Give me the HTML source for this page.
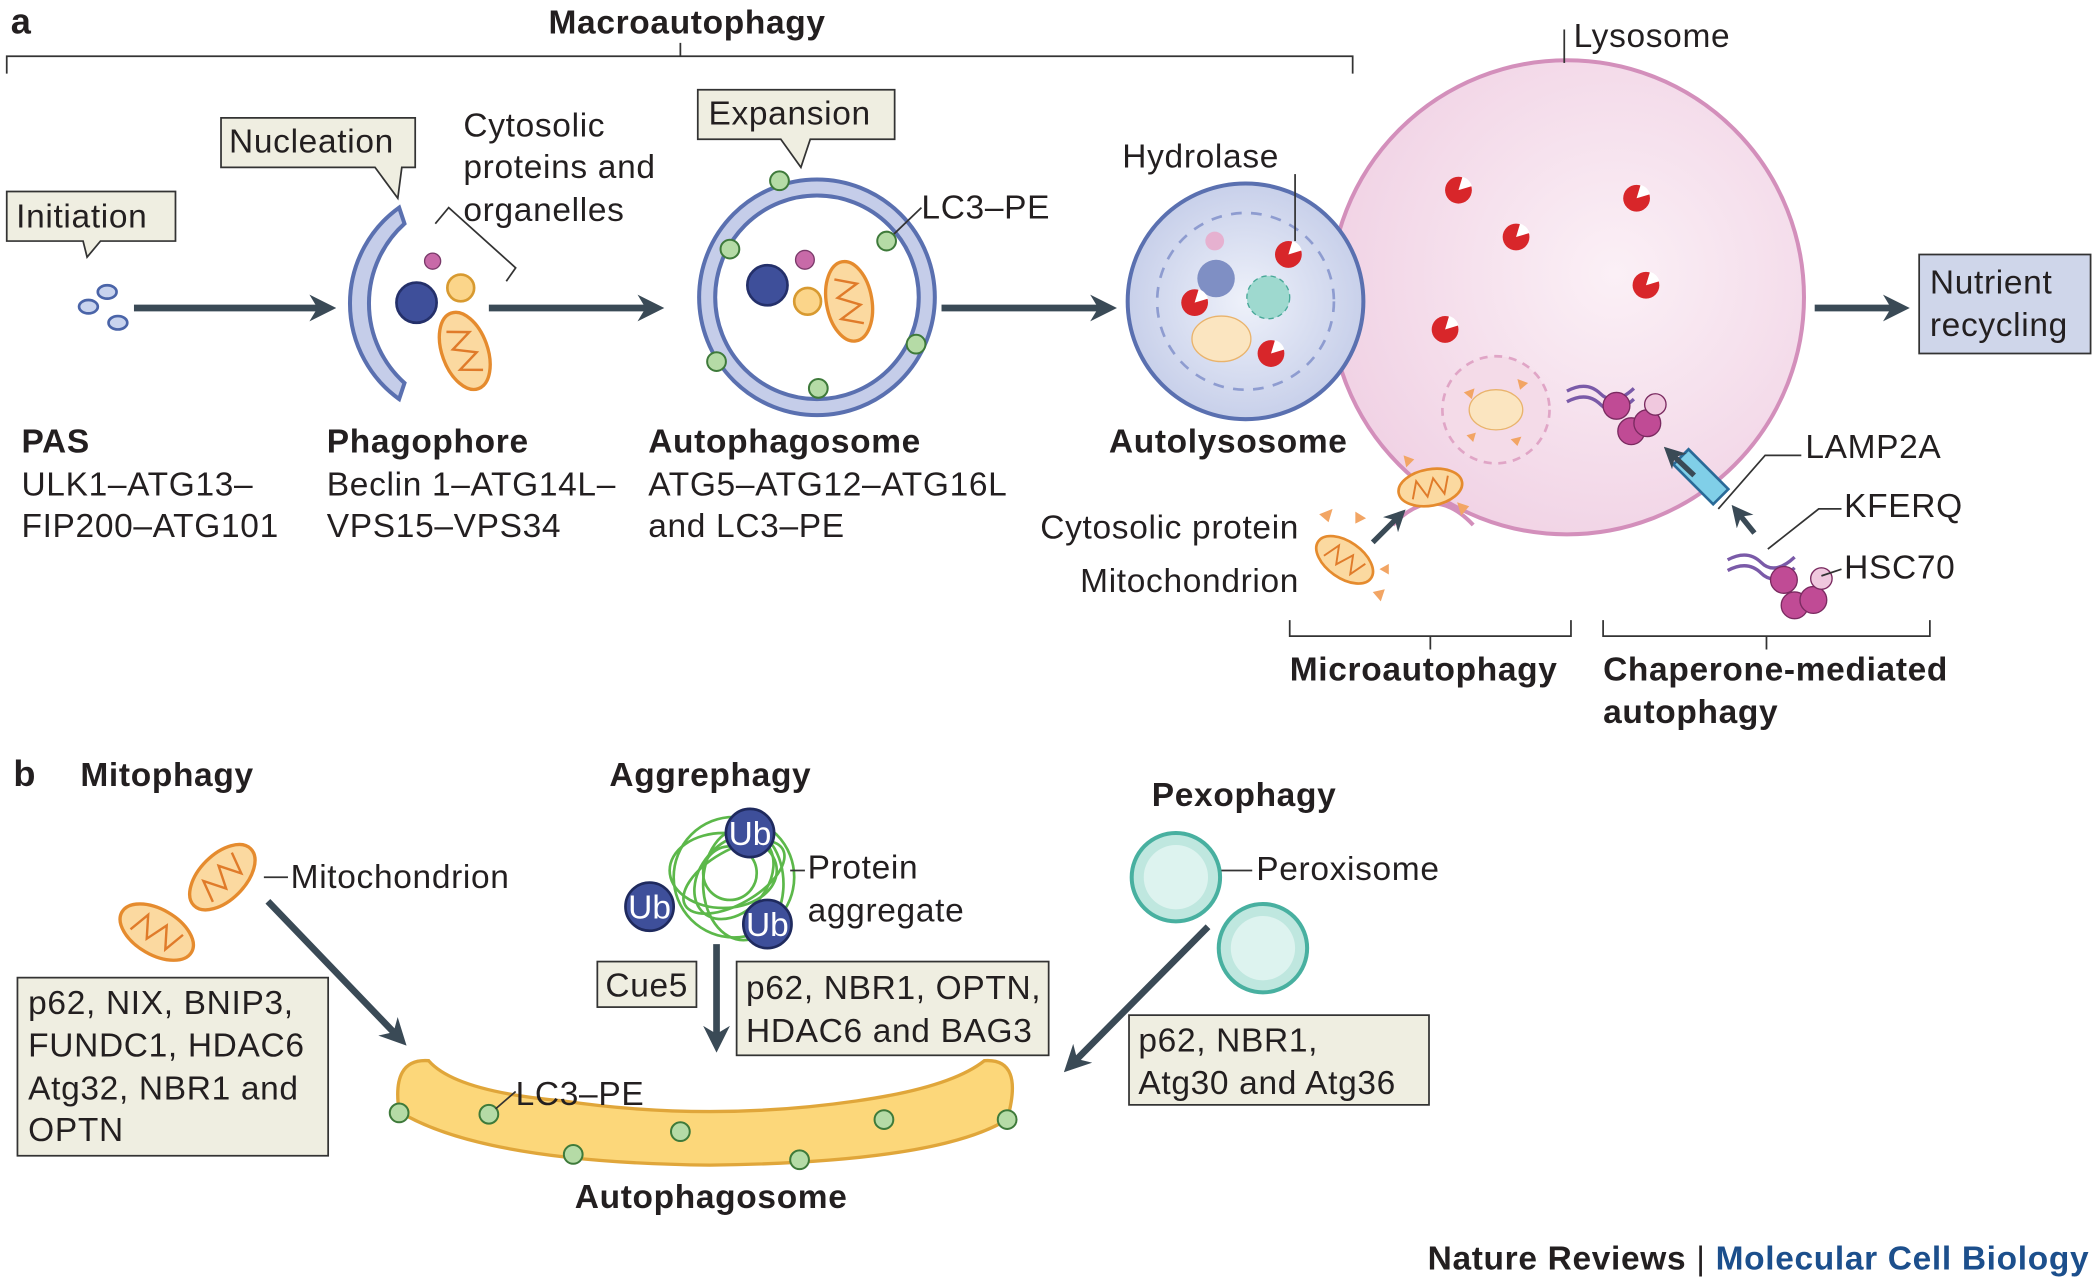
<!DOCTYPE html>
<html><head><meta charset="utf-8"><style>
html,body{margin:0;padding:0;background:#fff;}
svg{display:block;}
text{font-family:"Liberation Sans",sans-serif;fill:#231f20;letter-spacing:0.5px;}
.t{font-size:25px;}
.b{font-size:25px;font-weight:bold;}
</style></head><body>
<svg width="2100" height="1287" viewBox="0 0 1568 961" xmlns="http://www.w3.org/2000/svg">
<defs>
<marker id="ah" viewBox="0 0 10 10" refX="6" refY="5" markerWidth="4" markerHeight="4" orient="auto"><path d="M0,0 L10,5 L0,10 L3,5 z" fill="#3a4a56"/></marker>
<radialGradient id="lg" cx="0.6" cy="0.45" r="0.6"><stop offset="0" stop-color="#fbf0f6"/><stop offset="1" stop-color="#f1d3e5"/></radialGradient>
<radialGradient id="al" cx="0.5" cy="0.5" r="0.5"><stop offset="0" stop-color="#eef1fa"/><stop offset="1" stop-color="#c8d0ea"/></radialGradient>
<g id="mito"><ellipse cx="0" cy="0" rx="17" ry="30" fill="#fbd9a0" stroke="#e58b2e" stroke-width="2.5"/><path d="M-8,-18 L8,-12 L-8,-4 L8,4 L-8,12 L8,18" fill="none" stroke="#e07b2a" stroke-width="1.8"/></g>
<g id="pac"><circle r="10" fill="#d8262a"/><path d="M0,0 L10,-3 A10,10 0 0 0 3,-10 z" fill="#fff"/></g>
<g id="gd"><circle r="7" fill="#b5dba6" stroke="#3e7a3a" stroke-width="1.5"/></g>
</defs>
<text x="8" y="25" class="b" style="font-size:27px">a</text>
<text x="513" y="25" class="b" text-anchor="middle">Macroautophagy</text>
<path d="M5,55 V42 H1010 V55 M508,42 V32" fill="none" stroke="#333" stroke-width="1.3"/>
<path d="M5,143 H131 V180 H75 L65,192 L62,180 H5 Z" fill="#efeee1" stroke="#333" stroke-width="1.3"/>
<text x="12" y="170" class="t">Initiation</text>
<g fill="#c8d3ee" stroke="#4a64a8" stroke-width="2"><ellipse cx="66" cy="229" rx="7" ry="5"/><ellipse cx="80" cy="218" rx="7" ry="5"/><ellipse cx="88" cy="241" rx="7" ry="5"/></g>
<g stroke="#3a4a56" stroke-width="5" marker-end="url(#ah)"><line x1="100" y1="230" x2="243" y2="230"/><line x1="365" y1="230" x2="488" y2="230"/><line x1="703" y1="230" x2="826" y2="230"/><line x1="1355" y1="230" x2="1418" y2="230"/></g>
<path d="M298,155 A88,88 0 0 0 298,298 L302,286 A80,80 0 0 1 302,167 Z" fill="#c5cde9" stroke="#5a70b0" stroke-width="3"/>
<path d="M165,88 H310 V125 H300 L297,148 L280,125 H165 Z" fill="#efeee1" stroke="#333" stroke-width="1.3"/>
<text x="171" y="114" class="t">Nucleation</text>
<text x="346" y="102" class="t">Cytosolic</text><text x="346" y="133" class="t">proteins and</text><text x="346" y="165" class="t">organelles</text>
<path d="M325,167 L335,155 L385,200 L378,210" fill="none" stroke="#333" stroke-width="1.3"/>
<circle cx="323" cy="195" r="6" fill="#c86aa8" stroke="#7a3a6a"/>
<circle cx="311" cy="226" r="15" fill="#3e4f9a" stroke="#24306a" stroke-width="2"/>
<circle cx="344" cy="215" r="10" fill="#fbd58a" stroke="#d89a30" stroke-width="2"/>
<use href="#mito" transform="translate(347,262) rotate(-20)"/>
<circle cx="610" cy="222" r="88" fill="#c5cde9" stroke="#5a70b0" stroke-width="3"/>
<circle cx="610" cy="222" r="76" fill="#fff" stroke="#5a70b0" stroke-width="3"/>
<path d="M521,67 H668 V104 H605 L598,125 L583,104 H521 Z" fill="#efeee1" stroke="#333" stroke-width="1.3"/>
<text x="529" y="93" class="t">Expansion</text>
<text x="688" y="163" class="t">LC3–PE</text>
<line x1="662" y1="180" x2="688" y2="155" stroke="#333" stroke-width="1.3"/>
<use href="#gd" x="582" y="135"/><use href="#gd" x="545" y="186"/><use href="#gd" x="662" y="180"/><use href="#gd" x="535" y="270"/><use href="#gd" x="684" y="257"/><use href="#gd" x="611" y="290"/>
<circle cx="601" cy="194" r="7" fill="#c86aa8" stroke="#7a3a6a"/>
<circle cx="573" cy="213" r="15" fill="#3e4f9a" stroke="#24306a" stroke-width="2"/>
<circle cx="603" cy="225" r="10" fill="#fbd58a" stroke="#d89a30" stroke-width="2"/>
<use href="#mito" transform="translate(634,225) rotate(-10)"/>
<circle cx="1170" cy="222" r="177" fill="url(#lg)" stroke="#d38fbb" stroke-width="3"/>
<path d="M1040,392 Q1070,360 1100,392" fill="#fff" stroke="#d38fbb" stroke-width="3"/>
<line x1="1168" y1="47" x2="1168" y2="22" stroke="#333" stroke-width="1.3"/>
<text x="1175" y="35" class="t">Lysosome</text>
<circle cx="930" cy="225" r="88" fill="url(#al)" stroke="#5a70b0" stroke-width="3"/>
<circle cx="930" cy="225" r="66" fill="none" stroke="#8e9cd0" stroke-width="2" stroke-dasharray="8,7"/>
<circle cx="908" cy="208" r="14" fill="#7f8fc4"/><circle cx="947" cy="222" r="16" fill="#9ed9cf" stroke="#48a898" stroke-dasharray="4,3"/>
<circle cx="907" cy="180" r="7" fill="#e6b1d0"/>
<ellipse cx="912" cy="253" rx="22" ry="17" fill="#fbe5c0" stroke="#e9b36c"/>
<use href="#pac" x="962" y="190"/><use href="#pac" x="892" y="226"/><use href="#pac" x="949" y="264"/>
<text x="838" y="125" class="t">Hydrolase</text>
<line x1="967" y1="130" x2="967" y2="180" stroke="#333" stroke-width="1.3"/>
<use href="#pac" x="1089" y="142"/><use href="#pac" x="1222" y="148"/><use href="#pac" x="1132" y="177"/><use href="#pac" x="1229" y="213"/><use href="#pac" x="1079" y="246"/>
<circle cx="1117" cy="306" r="40" fill="#f4dbe8" stroke="#e0a5c6" stroke-width="2" stroke-dasharray="6,5"/>
<ellipse cx="1117" cy="306" rx="20" ry="15" fill="#fbe5c0" stroke="#e9b36c"/>
<g fill="#f2a564"><path d="M1093,293 l8,-3 l-2,8z"/><path d="M1133,283 l8,3 l-6,5z"/><path d="M1095,325 l7,-2 l-2,7z"/><path d="M1128,328 l8,-2 l-3,7z"/></g>
<g stroke="#7a5aa8" stroke-width="2.5" fill="none"><path d="M1170,292 q15,-8 25,2 t25,-4"/><path d="M1170,300 q15,-8 25,2 t25,-4"/></g>
<g fill="#c04b95" stroke="#7a2a60"><circle cx="1207" cy="303" r="10"/><circle cx="1218" cy="322" r="10"/><circle cx="1230" cy="316" r="10"/><circle cx="1236" cy="302" r="8" fill="#f0c8de"/></g>
<rect x="1262" y="335" width="16" height="42" fill="#80cfe8" stroke="#2a6a98" stroke-width="2" transform="rotate(-45 1270 356)"/>
<g stroke="#3a4a56" stroke-width="4" marker-end="url(#ah)"><line x1="1265" y1="355" x2="1247" y2="338"/><line x1="1310" y1="398" x2="1297" y2="382"/></g>
<g stroke="#7a5aa8" stroke-width="2.5" fill="none"><path d="M1290,418 q15,-8 25,2 t25,-4"/><path d="M1290,426 q15,-8 25,2 t25,-4"/></g>
<g fill="#c04b95" stroke="#7a2a60"><circle cx="1332" cy="433" r="10"/><circle cx="1340" cy="452" r="10"/><circle cx="1354" cy="448" r="10"/><circle cx="1360" cy="432" r="8" fill="#f0c8de"/></g>
<path d="M1283,380 L1318,340 H1345" fill="none" stroke="#333" stroke-width="1.3"/>
<path d="M1320,410 L1358,380 H1375" fill="none" stroke="#333" stroke-width="1.3"/>
<path d="M1360,430 L1375,425" fill="none" stroke="#333" stroke-width="1.3"/>
<text x="1348" y="342" class="t">LAMP2A</text><text x="1377" y="386" class="t">KFERQ</text><text x="1377" y="432" class="t">HSC70</text>
<use href="#mito" transform="translate(1068,364) rotate(80) scale(0.8)"/>
<use href="#mito" transform="translate(1004,418) rotate(-55) scale(0.8)"/>
<g fill="#f2a564"><path d="M985,384 l10,-4 l-3,10z"/><path d="M1012,382 l8,5 l-8,4z"/><path d="M1048,340 l8,3 l-6,6z"/><path d="M1088,375 l9,3 l-6,7z"/><path d="M1025,442 l9,-2 l-3,9z"/><path d="M1030,425 l7,-4 l0,8z"/></g>
<line x1="1025" y1="405" x2="1045" y2="385" stroke="#3a4a56" stroke-width="4" marker-end="url(#ah)"/>
<text x="970" y="402" class="t" text-anchor="end">Cytosolic protein</text>
<text x="970" y="442" class="t" text-anchor="end">Mitochondrion</text>
<path d="M963,463 V475 H1173 V463 M1068,475 V485 M1197,463 V475 H1441 V463 M1319,475 V485" fill="none" stroke="#333" stroke-width="1.3"/>
<text x="963" y="508" class="b">Microautophagy</text>
<text x="1197" y="508" class="b">Chaperone-mediated</text><text x="1197" y="540" class="b">autophagy</text>
<text x="828" y="338" class="b">Autolysosome</text>
<path d="M1433,190 H1561 V264 H1433 Z" fill="#cfd6ea" stroke="#333" stroke-width="1.3"/>
<text x="1441" y="219" class="t">Nutrient</text><text x="1441" y="251" class="t">recycling</text>
<text x="16" y="338" class="b">PAS</text><text x="16" y="370" class="t">ULK1–ATG13–</text><text x="16" y="401" class="t">FIP200–ATG101</text>
<text x="244" y="338" class="b">Phagophore</text><text x="244" y="370" class="t">Beclin 1–ATG14L–</text><text x="244" y="401" class="t">VPS15–VPS34</text>
<text x="484" y="338" class="b">Autophagosome</text><text x="484" y="370" class="t">ATG5–ATG12–ATG16L</text><text x="484" y="401" class="t">and LC3–PE</text>
<text x="10" y="587" class="b" style="font-size:27px">b</text>
<text x="60" y="587" class="b">Mitophagy</text><text x="455" y="587" class="b">Aggrephagy</text><text x="860" y="602" class="b">Pexophagy</text>
<use href="#mito" transform="translate(166,655) rotate(45)"/>
<use href="#mito" transform="translate(117,696) rotate(-60)"/>
<line x1="197" y1="655" x2="215" y2="655" stroke="#333" stroke-width="1.3"/>
<text x="217" y="663" class="t">Mitochondrion</text>
<line x1="200" y1="673" x2="298" y2="775" stroke="#3a4a56" stroke-width="5" marker-end="url(#ah)"/>
<rect x="13" y="730" width="232" height="133" fill="#efeee1" stroke="#333" stroke-width="1.3"/>
<text x="21" y="757" class="t">p62, NIX, BNIP3,</text><text x="21" y="789" class="t">FUNDC1, HDAC6</text><text x="21" y="821" class="t">Atg32, NBR1 and</text><text x="21" y="852" class="t">OPTN</text>
<g fill="none" stroke="#5cb84a" stroke-width="2"><circle cx="548" cy="655" r="45"/><ellipse cx="540" cy="650" rx="40" ry="28"/><ellipse cx="555" cy="660" rx="30" ry="42"/><ellipse cx="548" cy="655" rx="25" ry="35" transform="rotate(40 548 655)"/><ellipse cx="548" cy="655" rx="42" ry="20" transform="rotate(-30 548 655)"/><circle cx="545" cy="652" r="20"/></g>
<g fill="#3e4f9a" stroke="#1f2a5e" stroke-width="2"><circle cx="560" cy="622" r="18"/><circle cx="485" cy="677" r="18"/><circle cx="573" cy="690" r="18"/></g>
<text x="560" y="631" class="t" text-anchor="middle" style="fill:#fff;letter-spacing:0">Ub</text><text x="485" y="686" class="t" text-anchor="middle" style="fill:#fff;letter-spacing:0">Ub</text><text x="573" y="699" class="t" text-anchor="middle" style="fill:#fff;letter-spacing:0">Ub</text>
<line x1="590" y1="650" x2="601" y2="650" stroke="#333" stroke-width="1.3"/>
<text x="603" y="656" class="t">Protein</text><text x="603" y="688" class="t">aggregate</text>
<rect x="446" y="718" width="74" height="34" fill="#efeee1" stroke="#333" stroke-width="1.3"/><text x="452" y="744" class="t">Cue5</text>
<line x1="535" y1="705" x2="535" y2="778" stroke="#3a4a56" stroke-width="5" marker-end="url(#ah)"/>
<rect x="550" y="718" width="233" height="70" fill="#efeee1" stroke="#333" stroke-width="1.3"/>
<text x="557" y="746" class="t">p62, NBR1, OPTN,</text><text x="557" y="778" class="t">HDAC6 and BAG3</text>
<circle cx="878" cy="655" r="33" fill="#bfe7df" stroke="#48b0a0" stroke-width="3"/><circle cx="878" cy="655" r="24" fill="#ddf3ef"/>
<circle cx="943" cy="708" r="33" fill="#bfe7df" stroke="#48b0a0" stroke-width="3"/><circle cx="943" cy="708" r="24" fill="#ddf3ef"/>
<line x1="912" y1="650" x2="935" y2="650" stroke="#333" stroke-width="1.3"/>
<text x="938" y="657" class="t">Peroxisome</text>
<line x1="902" y1="692" x2="800" y2="795" stroke="#3a4a56" stroke-width="5" marker-end="url(#ah)"/>
<rect x="843" y="758" width="224" height="67" fill="#efeee1" stroke="#333" stroke-width="1.3"/>
<text x="850" y="785" class="t">p62, NBR1,</text><text x="850" y="817" class="t">Atg30 and Atg36</text>
<path d="M298,830 Q292,790 320,792 Q340,815 420,822 Q530,838 640,822 Q710,812 735,792 Q765,790 752,836 Q700,868 530,870 Q360,868 298,830 Z" fill="#fcd77a" stroke="#e0a63a" stroke-width="2.5"/>
<use href="#gd" x="298" y="831"/><use href="#gd" x="365" y="832"/><use href="#gd" x="428" y="862"/><use href="#gd" x="508" y="845"/><use href="#gd" x="597" y="866"/><use href="#gd" x="660" y="836"/><use href="#gd" x="752" y="836"/>
<line x1="370" y1="828" x2="385" y2="815" stroke="#333" stroke-width="1.3"/>
<text x="385" y="825" class="t">LC3–PE</text>
<text x="531" y="902" class="b" text-anchor="middle">Autophagosome</text>
<text x="1560" y="948" class="b" text-anchor="end"><tspan style="fill:#231f20">Nature Reviews</tspan><tspan style="font-weight:normal"> | </tspan><tspan style="fill:#1c4f8c">Molecular Cell Biology</tspan></text>
</svg>
</body></html>
